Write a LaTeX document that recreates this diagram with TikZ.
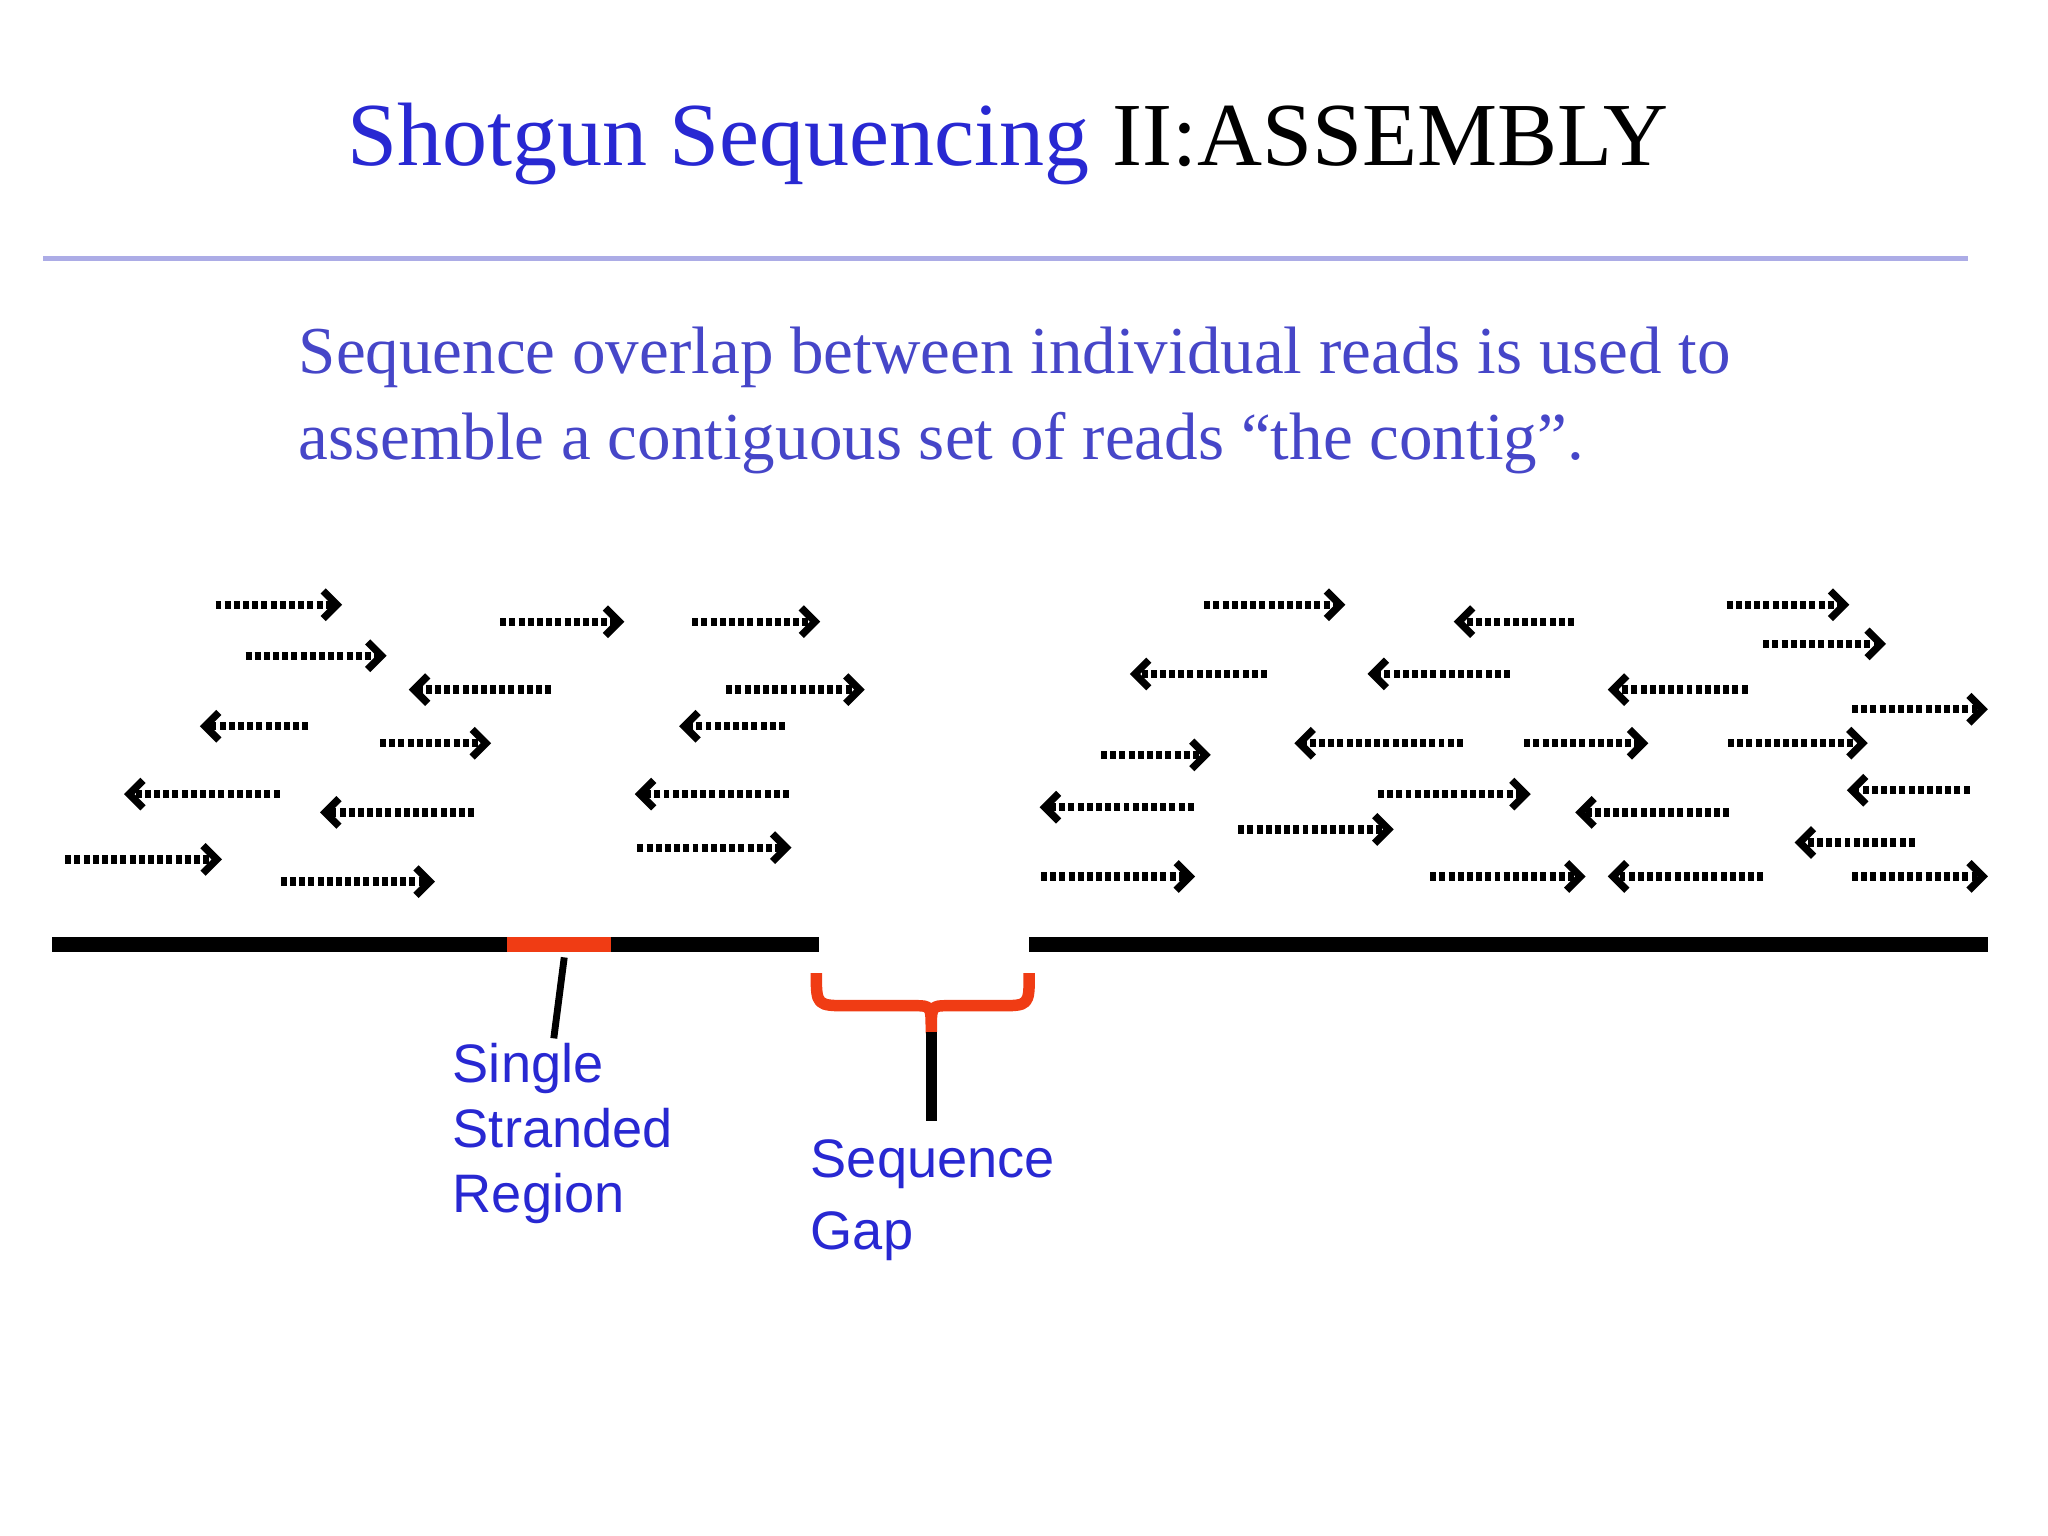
\documentclass[tikz,border=0pt]{standalone}
\usepackage{fontspec}
\setmainfont{Liberation Serif}
\newfontfamily\lsans{Liberation Sans}
\usetikzlibrary{arrows.meta}
\definecolor{tblue}{RGB}{40,40,210}
\definecolor{bblue}{RGB}{70,70,200}
\definecolor{rred}{RGB}{240,60,20}
\begin{document}
\begin{tikzpicture}[x=0.01cm,y=-0.01cm,
  read/.style={line width=1.8pt,dash pattern=on 1.3pt off 0.7pt,-{Straight Barb[length=3pt,width=6pt,line width=1.6pt]}},
  lbl/.style={font=\lsans\fontsize{11.8}{14.2}\selectfont,text=tblue,align=left,anchor=north west,inner sep=0pt}]
\useasboundingbox (0,0) rectangle (1568,1176);
\node[anchor=base west,inner sep=0pt,font=\fontsize{19.6}{22}\selectfont] (title) at (265,127) {\textcolor{tblue}{Shotgun Sequencing} II:ASSEMBLY};
\draw[color=bblue!45,line width=1.2pt] (33,198) -- (1507,198);
\node[anchor=base west,inner sep=0pt,font=\fontsize{14.6}{18.8}\selectfont,text=bblue,align=left] (body) at (228,352) {Sequence overlap between individual reads is used to\\assemble a contiguous set of reads ``the contig''.};
% forward reads
\foreach \a/\b/\y in {165/262/463,383/478/476,530/628/476,188/296/502,556/662/528,291/376/569,488/606/649,50/170/658,215/333/675,
922/1030/463,1322/1416/463,1350/1444/493,1418/1522/543,843/927/578,1167/1262/569,1323/1430/569,1055/1172/608,948/1067/635,797/915/671,1095/1214/671,1418/1522/671}
  \draw[read] (\a,\y) -- (\b,\y);
% reverse reads
\foreach \a/\b/\y in {313/422/528,153/236/556,520/601/556,95/214/608,245/363/622,486/604/608,
1113/1205/476,865/970/516,1047/1156/516,1231/1338/528,991/1120/569,1414/1508/605,796/914/618,1206/1324/622,1374/1466/645,1231/1350/671}
  \draw[read] (\b,\y) -- (\a,\y);
% contig
\draw[line width=3.4pt] (40,723) -- (627,723);
\draw[line width=3.4pt] (788,723) -- (1522,723);
\draw[rred,line width=3.4pt] (388,723) -- (468,723);
\coordinate (ss) at (432,733);
\coordinate (sse) at (424,795);
\draw[line width=1.5pt] (ss) -- (sse);
\draw[rred,line width=2.5pt,line join=round] (625,745) .. controls (625,770) .. (650,770) -- (700,770) .. controls (713,770) .. (713,790) .. controls (713,770) .. (726,770) -- (765,770) .. controls (788,770) .. (788,745);
\coordinate (gt) at (713,790);
\coordinate (gb) at (713,858);
\draw[line width=2.5pt] (gt) -- (gb);
\node[lbl] (l1) at (346,798) {Single\\Stranded\\Region};
\node[lbl,font=\lsans\fontsize{11.8}{15.6}\selectfont] (l2) at (620,872) {Sequence\\Gap};
\end{tikzpicture}
\end{document}
